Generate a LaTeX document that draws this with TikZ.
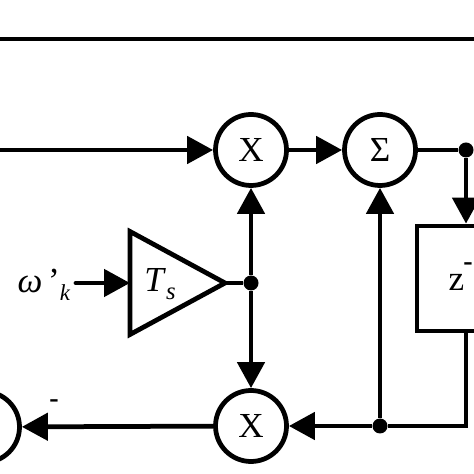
\documentclass[tikz,border=0pt]{standalone}
\usepackage{fontspec}
\setmainfont{Liberation Serif}
\usetikzlibrary{shapes,arrows.meta}
\tikzset{
  wire/.style={line width=0.095cm},
  flow/.style={wire,-{Triangle[length=0.52cm,width=0.54cm]}},
  mixer/.style={circle,draw,line width=0.095cm,minimum size=1.42cm,inner sep=0,font=\fontsize{20}{24}\selectfont},
  junction/.style={circle,fill=black,minimum size=0.3cm,inner sep=0},
  delaybox/.style={rectangle,draw,line width=0.095cm,minimum width=1.96cm,minimum height=2.1cm},
  gain/.style={isosceles triangle,isosceles triangle stretches,draw,line width=0.095cm,minimum width=2.06cm,minimum height=1.9cm,inner sep=0,outer sep=0},
  txt/.style={inner sep=0,font=\fontsize{20}{24}\selectfont}
}
\begin{document}
\begin{tikzpicture}
\useasboundingbox (0,0) rectangle (9.48,9.48);
% Linha superior
\coordinate (topl) at (-0.2,8.7);
\coordinate (topr) at (9.7,8.7);
\draw[wire] (topl) -- (topr);
% Blocos
\node[mixer] (mulup) at (5.02,6.48) {X};
\node[mixer] (sum) at (7.6,6.48) {Σ};
\node[mixer] (muldown) at (5.02,0.96) {X};
\node[mixer] (errsum) at (-0.32,0.94) {};
\node[delaybox] (delay) at (9.32,3.91) {};
\node[txt] (zinv) at (9.13,3.84) {z};
\node[txt,font=\fontsize{16}{18}\selectfont\bfseries] (zminus) at (9.36,4.14) {-};
\node[gain,anchor=lower side] (ts) at (2.6,3.82) {};
\node[txt] (tslabel) at (3.2,3.8) {\textit{T}\raisebox{-0.5ex}{\fontsize{14}{16}\selectfont\textit{s}}};
% Nos
\node[junction] (tsdot) at (5.02,3.82) {};
\node[junction] (sumdot) at (9.32,6.48) {};
\node[junction] (fbdot) at (7.6,0.96) {};
\coordinate (fbcorner) at (9.32,0.96);
% Entradas
\coordinate (phasein) at (-0.2,6.48);
\coordinate (omegain) at (1.52,3.82);
\node[txt] (omegalabel) at (0.88,3.78) {\textit{ω}\,'\raisebox{-0.5ex}{\fontsize{13}{15}\selectfont\textit{k}}};
\node[txt,font=\fontsize{16}{18}\selectfont\bfseries] (errminus) at (1.08,1.4) {-};
% Ligacoes
\draw[flow] (phasein) -- (mulup);
\draw[flow] (mulup) -- (sum);
\draw[wire] (sum) -- (sumdot);
\draw[flow] (sumdot) -- (delay.north);
\draw[wire,line join=miter] (delay.south) -- (fbcorner) -- (fbdot);
\draw[flow] (fbdot) -- (muldown);
\draw[flow] (fbdot) -- (sum);
\draw[flow] (muldown) -- (errsum);
\draw[flow,line cap=round] (omegain) -- (ts.lower side);
\draw[wire] (ts.apex) -- (tsdot);
\draw[flow] (tsdot) -- (mulup);
\draw[flow] (tsdot) -- (muldown);
\end{tikzpicture}
\end{document}
